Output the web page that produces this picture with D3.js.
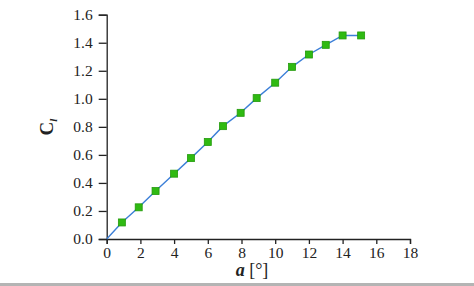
<!DOCTYPE html>
<html>
<head>
<meta charset="utf-8">
<script src="https://cdn.jsdelivr.net/npm/d3@7"></script>
<style>
  body { margin: 0; background: #fff; }
  svg text { font-family: "Liberation Serif", "DejaVu Serif", serif; }
</style>
</head>
<body>
<div id="chart"></div>
<script>
// angle of attack [deg] and lift coefficient
var alpha = [0.9, 1.9, 2.9, 4.0, 5.0, 6.0, 6.9, 7.95, 8.9, 10.0, 11.0, 12.0, 13.0, 14.0, 15.1]
var cl = [0.118, 0.226, 0.342, 0.466, 0.577, 0.692, 0.805, 0.90, 1.005, 1.115, 1.228, 1.316, 1.385, 1.452, 1.452]
var xTicks = [0, 2, 4, 6, 8, 10, 12, 14, 16, 18]
var yTicks = [0, 0.2, 0.4, 0.6, 0.8, 1.0, 1.2, 1.4, 1.6]

var width = 474, height = 286
var margin = {top: 14.7, right: 64, bottom: 47, left: 106.7}

var svg = d3.select('#chart').append('svg')
    .attr('width', width)
    .attr('height', height)

var xScale = d3.scaleLinear().domain([0, 18]).range([margin.left, width - margin.right])
var yScale = d3.scaleLinear().domain([0, 1.6]).range([height - margin.bottom, margin.top])

var xAxis = d3.axisBottom(xScale).tickValues(xTicks).tickSizeOuter(0).tickSize(5).tickPadding(3)
    .tickFormat(function(d){ return d })
var yAxis = d3.axisLeft(yScale).tickValues(yTicks).tickSizeOuter(0).tickSize(8).tickPadding(6)
    .tickFormat(d3.format('.1f'))

var gx = svg.append('g')
    .attr('transform', 'translate(0,' + yScale(0) + ')')
    .call(xAxis)
var gy = svg.append('g')
    .attr('transform', 'translate(' + xScale(0) + ',0)')
    .call(yAxis)

svg.selectAll('.domain').attr('stroke', '#222').attr('stroke-width', 1.3)
svg.selectAll('.tick line').attr('stroke', '#222').attr('stroke-width', 1.3)
svg.selectAll('.tick text').attr('font-size', 15.5).attr('fill', '#222')
    .style('font-family', '"Liberation Serif", serif')

// line starts from the origin
var pts = [{x: 0, y: 0}]
for (var i = 0; i < alpha.length; i++) {
    pts.push({x: alpha[i], y: cl[i]})
}

var lineGen = d3.line()
    .x(function(d) { return xScale(d.x) })
    .y(function(d) { return yScale(d.y) })

svg.append('path')
    .attr('d', lineGen(pts))
    .attr('fill', 'none')
    .attr('stroke', '#3c7fd8')
    .attr('stroke-width', 1.4)

var s = 7
svg.selectAll('rect.pt')
    .data(pts.slice(1))
    .enter().append('rect')
    .attr('class', 'pt')
    .attr('x', function(d) { return xScale(d.x) - s / 2 })
    .attr('y', function(d) { return yScale(d.y) - s / 2 })
    .attr('width', s)
    .attr('height', s)
    .attr('fill', '#2fba12')
    .attr('stroke', '#249a0c')
    .attr('stroke-width', 0.8)

// axis titles
var xl = svg.append('text')
    .attr('x', 252)
    .attr('y', 276)
    .attr('text-anchor', 'middle')
    .attr('font-size', 18)
    .attr('fill', '#222')
xl.append('tspan').attr('font-weight', 'bold').attr('font-style', 'italic').text('a')
xl.append('tspan').text(' [°]')

var yl = svg.append('text')
    .attr('transform', 'translate(53,127) rotate(-90)')
    .attr('text-anchor', 'middle')
    .attr('font-size', 19)
    .attr('font-weight', 'bold')
    .attr('fill', '#222')
yl.append('tspan').text('C')
yl.append('tspan').attr('font-size', 11).attr('dy', 4).attr('font-style', 'italic').text('l')

// grey strip along the bottom edge
svg.append('rect')
    .attr('x', 0).attr('y', 283)
    .attr('width', width).attr('height', 3)
    .attr('fill', '#b4b4b4')
</script>
</body>
</html>
